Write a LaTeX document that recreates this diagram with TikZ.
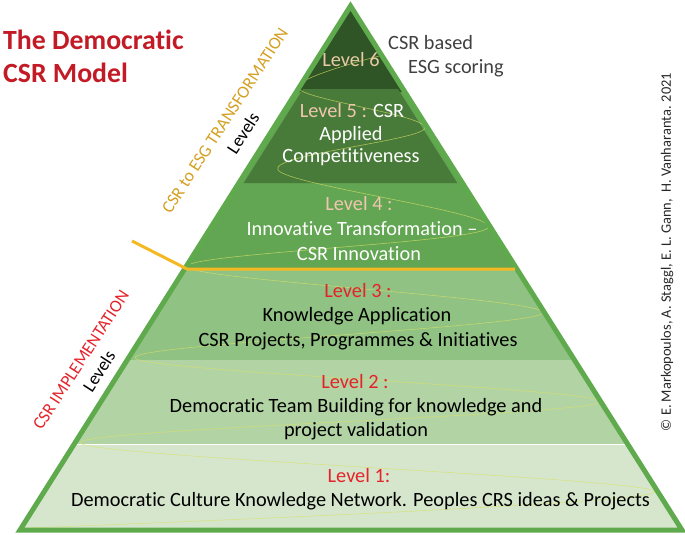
\documentclass[tikz,border=0pt]{standalone}
\usepackage{fontspec}
\setmainfont{Carlito}[Ligatures=CommonOff]
\definecolor{cSix}{HTML}{2F5426}
\definecolor{cFive}{HTML}{487B39}
\definecolor{cFour}{HTML}{62A552}
\definecolor{cThree}{HTML}{90C283}
\definecolor{cTwo}{HTML}{B2D3A4}
\definecolor{cOne}{HTML}{D6E6CC}
\definecolor{cBorder}{HTML}{5FAA4D}
\definecolor{cYel}{HTML}{F4B823}
\definecolor{cGold}{HTML}{D4A022}
\definecolor{cRed}{HTML}{E5232B}
\definecolor{cTitle}{HTML}{C21B26}
\definecolor{cPink}{HTML}{F0C6B0}
\definecolor{cBeige}{HTML}{E8CBA6}
\definecolor{cGray}{HTML}{404040}
\definecolor{cSpiral}{HTML}{D8E168}
\begin{document}
\begin{tikzpicture}[x=1pt,y=-1pt,
  lv/.style={font=\fontsize{20.3}{24}\selectfont, anchor=base, inner sep=0pt},
  side/.style={font=\fontsize{17.5}{20}\selectfont, rotate=57, inner sep=0pt},
  titletxt/.style={font=\bfseries\fontsize{27.8}{32}\selectfont, text=cTitle, anchor=base west, inner sep=0pt}]
\useasboundingbox (0,0) rectangle (685,535);
\coordinate (A) at (350.5,6);
\coordinate (BL) at (20,530);
\coordinate (BR) at (682,530);
% bands
\begin{scope}
  \clip (A) -- (BL) -- (BR) -- cycle;
  \fill[cFour] (0,0) rectangle (685,535);
  \fill[cSix] (353.5,6) -- (296,92) -- (405,92) -- cycle;
  \fill[cFive] (303.1,89) -- (397.9,89) -- (457.3,183) -- (243.7,183) -- cycle;
  \fill[cThree] (0,269) rectangle (685,360);
  \fill[cTwo] (0,360) rectangle (685,444);
  \fill[cOne] (0,444) rectangle (685,535);
  \draw[white, line width=1.6pt] (0,444.5) -- (685,444.5);
  \draw[cSpiral, line width=0.6pt, opacity=0.7] plot[smooth, tension=0.55] coordinates {
    (395,52) (298,88) (425,128) (278,170) (488,228) (187,267)
    (543,313) (135,358) (600,402) (80,443) (655,492) (26,528)};
\end{scope}
\draw[cBorder, line width=5pt, line join=miter] (A) -- (BL) -- (BR) -- cycle;
% yellow divider
\coordinate (y0) at (132,241);
\coordinate (y1) at (187,269);
\coordinate (y2) at (515,269);
\draw[cYel, line width=3pt, line join=round] (y0) -- (y1) -- (y2);
% title
\node[titletxt] (t1) at (3,50) {The Democratic};
\node[titletxt] (t2) at (3,82) {CSR Model};
% side labels
\node[side, text=cGold] (s1) at (225,120.5) {CSR to ESG TRANSFORMATION};
\node[side, font=\fontsize{18}{20}\selectfont] (s2) at (243,133) {Levels};
\node[side, text=cRed] (s3) at (81,360) {CSR IMPLEMENTATION};
\node[side, font=\fontsize{18}{20}\selectfont] (s4) at (99,371) {Levels};
% level 6
\node[lv, text=cBeige] (l6) at (351,66.5) {Level 6};
\node[lv, text=cGray, anchor=base west] (esga) at (388,50) {CSR based};
\node[lv, text=cGray, anchor=base west] (esgb) at (408,74) {ESG scoring};
% level 5
\node[lv, text=white] (l5a) at (352,117) {\textcolor{cPink}{Level 5 :} CSR};
\node[lv, text=white] (l5b) at (351,140) {Applied};
\node[lv, text=white] (l5c) at (351,162) {Competitiveness};
% level 4
\node[lv, text=cPink] (l4a) at (359,210) {Level 4 :};
\node[lv, text=white] (l4b) at (362,235.5) {Innovative Transformation --};
\node[lv, text=white] (l4c) at (359,260) {CSR Innovation};
% level 3
\node[lv, text=cRed] (l3a) at (358,297) {Level 3 :};
\node[lv] (l3b) at (357,321) {Knowledge Application};
\node[lv] (l3c) at (358,346) {CSR Projects, Programmes \& Initiatives};
% level 2
\node[lv, text=cRed] (l2a) at (355,388) {Level 2 :};
\node[lv] (l2b) at (356,412) {Democratic Team Building for knowledge and};
\node[lv] (l2c) at (356,436) {project validation};
% level 1
\node[lv, text=cRed] (l1a) at (359,482) {Level 1:};
\node[lv] (l1b) at (360.5,506) {Democratic Culture Knowledge Network. Peoples CRS ideas \& Projects};
% copyright
\node[rotate=90, font=\fontsize{14.4}{16}\selectfont, text=black!85, inner sep=0pt] (copy) at (667,252) {© E. Markopoulos, A. Staggl, E. L. Gann,\ \ H. Vanharanta. 2021};
\end{tikzpicture}
\end{document}
